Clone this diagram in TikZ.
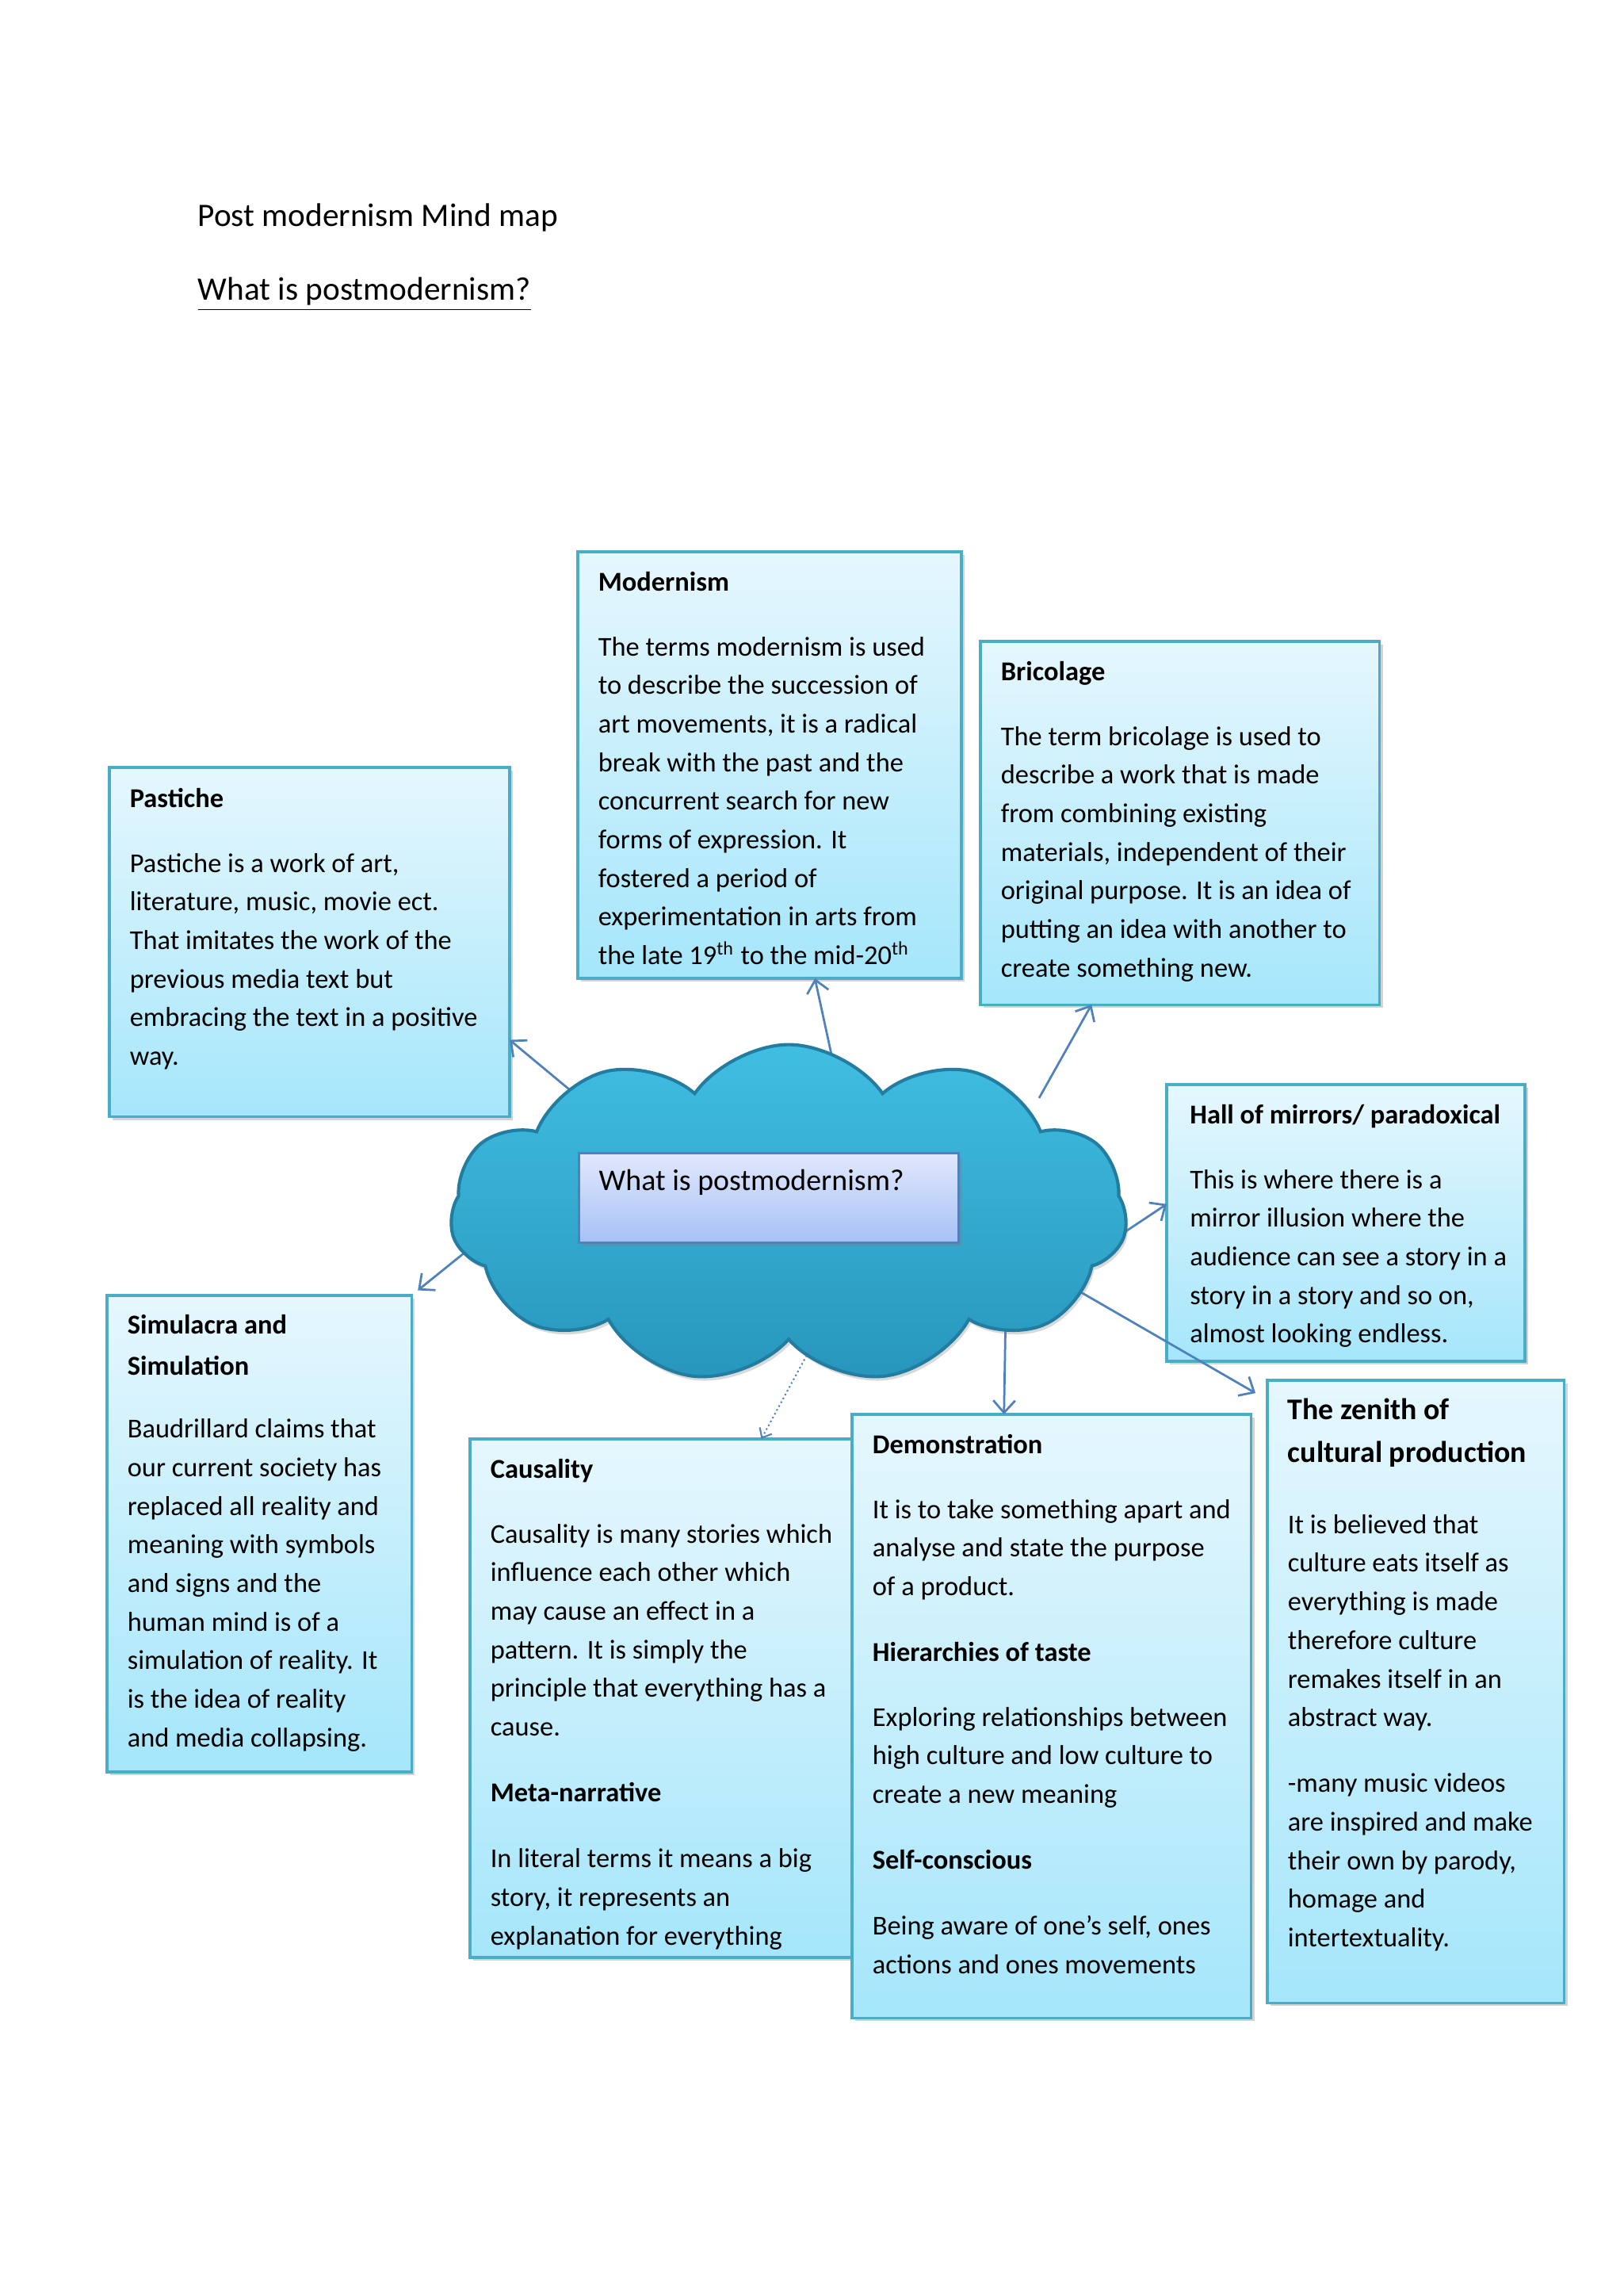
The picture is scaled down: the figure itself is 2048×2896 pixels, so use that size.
\documentclass[tikz,border=0pt]{standalone}
\usepackage{fontspec}
\setmainfont{Carlito}
\usetikzlibrary{arrows.meta,shapes.symbols,shadows}
\definecolor{boxline}{RGB}{75,172,198}
\definecolor{boxtop}{RGB}{230,247,253}
\definecolor{boxbot}{RGB}{165,230,251}
\definecolor{arrowblue}{RGB}{79,129,189}
\definecolor{cloudtop}{RGB}{64,190,226}
\definecolor{cloudbot}{RGB}{40,150,188}
\definecolor{cloudline}{RGB}{35,125,160}
\definecolor{hubtop}{RGB}{226,232,252}
\definecolor{hubbot}{RGB}{166,193,246}
\definecolor{hubline}{RGB}{79,129,189}
\begin{document}
\begin{tikzpicture}[x=0.29053pt,y=-0.29053pt,
  box/.style={draw=boxline, line width=0.9pt, top color=boxtop, bottom color=boxbot,
    anchor=north west, inner sep=0pt, outer sep=0pt,
    drop shadow={shadow xshift=1.2pt, shadow yshift=-1.2pt, opacity=0.35}},
  txt/.style={anchor=north west, align=left, inner sep=0pt, font=\fontsize{10}{14.15}\selectfont,
    execute at begin node={\rule{0pt}{9pt}}},
  conn/.style={draw=arrowblue, line width=0.8pt, -{Straight Barb[length=4.5pt,width=8pt]}},
  puffy/.style={cloud, cloud puffs=11, cloud puff arc=110, cloud ignores aspect,
    minimum width=248pt, minimum height=124pt, inner sep=0pt,
    top color=cloudtop, bottom color=cloudbot, draw=cloudline, line width=1.2pt,
    drop shadow={shadow xshift=0.8pt, shadow yshift=-1.5pt, opacity=0.3}},
  hub/.style={draw=hubline, line width=0.8pt, top color=hubtop, bottom color=hubbot,
    anchor=north west, inner sep=0pt,
    drop shadow={shadow xshift=1.2pt, shadow yshift=-1.5pt, opacity=0.35}}]
\useasboundingbox (0,0) rectangle (2048,2896);

%titulo
\node[anchor=base west, inner sep=0pt, font=\fontsize{12}{14}\selectfont] (title) at (249,286) {Post modernism Mind map};
\node[anchor=base west, inner sep=0pt, font=\fontsize{12}{14}\selectfont] (question) at (249,379) {\underline{What is postmodernism?}};

%caixas
\node[box, minimum width=140.6pt, minimum height=156.3pt] (modernism) at (729,696) {};
\node[box, minimum width=146.4pt, minimum height=133.1pt] (bricolage) at (1237,809) {};
\node[box, minimum width=146.7pt, minimum height=128.1pt] (pastiche) at (138,968) {};
\node[box, minimum width=131.3pt, minimum height=101.4pt] (mirrors) at (1472,1368) {};
\node[box, minimum width=111.6pt, minimum height=174.6pt] (simulacra) at (135,1634) {};
\node[box, minimum width=140.6pt, minimum height=190.0pt] (causality) at (593,1815) {};
\node[box, minimum width=146.4pt, minimum height=221.1pt] (demo) at (1075,1784) {};
\node[box, minimum width=108.9pt, minimum height=228.1pt] (zenith) at (1599,1741) {};

%textos
\node[txt] (modernism-t) at ([xshift=7.3pt,yshift=-7.2pt]modernism.north west)
  {\textbf{Modernism}\\[9.5pt]
   The terms modernism is used\\ to describe the succession of\\
   art movements, it is a radical\\ break with the past and the\\
   concurrent search for new\\ forms of expression. It\\
   fostered a period of\\ experimentation in arts from\\
   the late 19\textsuperscript{th} to the mid-20\textsuperscript{th}};
\node[txt] (bricolage-t) at ([xshift=7.3pt,yshift=-7.2pt]bricolage.north west)
  {\textbf{Bricolage}\\[9.5pt]
   The term bricolage is used to\\ describe a work that is made\\
   from combining existing\\ materials, independent of their\\
   original purpose. It is an idea of\\ putting an idea with another to\\
   create something new.};
\node[txt] (pastiche-t) at ([xshift=7.3pt,yshift=-7.5pt]pastiche.north west)
  {\textbf{Pastiche}\\[9.5pt]
   Pastiche is a work of art,\\ literature, music, movie ect.\\
   That imitates the work of the\\ previous media text but\\
   embracing the text in a positive\\ way.};
\node[txt] (mirrors-t) at ([xshift=8.3pt,yshift=-7.2pt]mirrors.north west)
  {\textbf{Hall of mirrors/ paradoxical}\\[9.5pt]
   This is where there is a\\ mirror illusion where the\\
   audience can see a story in a\\ story in a story and so on,\\
   almost looking endless.};
\node[txt] (simulacra-t) at ([xshift=7.3pt,yshift=-6.8pt]simulacra.north west)
  {\textbf{Simulacra and}\\[0.9pt] \textbf{Simulation}\\[9pt]
   Baudrillard claims that\\ our current society has\\
   replaced all reality and\\ meaning with symbols\\
   and signs and the\\ human mind is of a\\
   simulation of reality. It\\ is the idea of reality\\
   and media collapsing.};
\node[txt] (causality-t) at ([xshift=7.3pt,yshift=-7.2pt]causality.north west)
  {\textbf{Causality}\\[9.5pt]
   Causality is many stories which\\ influence each other which\\
   may cause an effect in a\\ pattern. It is simply the\\
   principle that everything has a\\ cause.\\[10pt]
   \textbf{Meta-narrative}\\[10pt]
   In literal terms it means a big\\ story, it represents an\\
   explanation for everything};
\node[txt] (demo-t) at ([xshift=7.3pt,yshift=-7.2pt]demo.north west)
  {\textbf{Demonstration}\\[9.5pt]
   It is to take something apart and\\ analyse and state the purpose\\
   of a product.\\[10pt]
   \textbf{Hierarchies of taste}\\[9.5pt]
   Exploring relationships between\\ high culture and low culture to\\
   create a new meaning\\[10pt]
   \textbf{Self-conscious}\\[10pt]
   Being aware of one’s self, ones\\ actions and ones movements};
\node[txt] (zenith-t) at ([xshift=7.3pt,yshift=-6.4pt]zenith.north west)
  {{\fontsize{11}{15.6}\selectfont\bfseries The zenith of}\\[1.5pt]
   {\fontsize{11}{15.6}\selectfont\bfseries cultural production}\\[12pt]
   It is believed that\\ culture eats itself as\\ everything is made\\
   therefore culture\\ remakes itself in an\\ abstract way.\\[10pt]
   -many music videos\\ are inspired and make\\ their own by parody,\\
   homage and\\ intertextuality.};

%setas
\coordinate (p1) at (741,1393);
\coordinate (p2) at (1049,1330);
\coordinate (p3) at (1311,1385);
\coordinate (p4) at (1380,1580);
\coordinate (p5) at (1305,1596);
\coordinate (p6) at (1269,1650);
\coordinate (p7) at (606,1564);
\coordinate (p8) at (1023,1700);
\draw[conn] (p1) -- (pastiche.-26);
\draw[conn] (p2) -- (modernism.-78);
\draw[conn] (p3) -- (bricolage.244);
\draw[conn] (p4) -- (mirrors.174);
\draw[conn, shorten >=5pt] (p5) -- (zenith.117);
\draw[conn] (p6) -- (demo.99);
\draw[conn, shorten >=3pt] (p7) -- (simulacra.north east);

%nuvem
\node[puffy] (cloud) at (995,1531) {};
\node[hub, minimum width=139.2pt, minimum height=32.8pt] (hub) at (729,1453) {};
\node[anchor=base west, inner sep=0pt, font=\fontsize{11}{13}\selectfont] (hub-t) at (755,1501) {What is postmodernism?};
\draw[conn, line width=0.6pt, densely dotted, -{Straight Barb[length=3pt,width=5pt]}] (p8) -- (causality.69);
\end{tikzpicture}
\end{document}
